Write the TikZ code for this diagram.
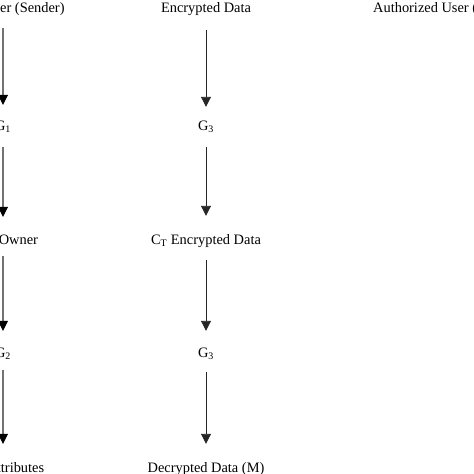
\documentclass[tikz,border=0pt]{standalone}
\usepackage{fontspec}
\setmainfont{Liberation Serif}
\usetikzlibrary{arrows.meta}
\begin{document}
\begin{tikzpicture}[x=1pt,y=-1pt,
  lbl/.style={inner sep=0pt, text height=10pt, text depth=3.5pt, anchor=base,
    font=\fontsize{14.4}{17}\selectfont},
  flow/.style={draw=black!85, line width=0.9pt, -{Triangle[width=10pt,length=10pt]}},
  flowl/.style={draw=black!55, line width=2.4pt, -{Triangle[width=10pt,length=10pt,color=black,fill=black,line width=0.4pt]}}]
\useasboundingbox (0,0) rectangle (474,474);
\clip (0,0) rectangle (474,474);
% left column
\node[lbl] (l1) at (3,12.5) {Data Owner (Sender)};
\node[lbl] (l2) at (3,130) {G\textsubscript{1}};
\node[lbl] (l3) at (3,244) {Data Owner};
\node[lbl] (l4) at (3,357) {G\textsubscript{2}};
\node[lbl] (l5) at (0,472) {User Attributes};
% middle column
\node[lbl] (m1) at (206,12.5) {Encrypted Data};
\node[lbl] (m2) at (206,130) {G\textsubscript{3}};
\node[lbl] (m3) at (206,244) {C\textsubscript{T} Encrypted Data};
\node[lbl] (m4) at (206,357) {G\textsubscript{3}};
\node[lbl] (m5) at (206,472) {Decrypted Data (M)};
% right column
\node[lbl, anchor=base west] (r1) at (373,12.5) {Authorized User (Receiver)};
% arrows
\draw[flow, shorten <=14pt, shorten >=13pt] (m1) -- (m2);
\draw[flow, shorten <=13.5pt, shorten >=18pt] (m2) -- (m3);
\draw[flow, shorten <=12.5pt, shorten >=16pt] (m3) -- (m4);
\draw[flow, shorten <=11.5pt, shorten >=18pt] (m4) -- (m5);
\draw[flowl, shorten <=12pt, shorten >=15pt] (l1) -- (l2);
\draw[flowl, shorten <=13.5pt, shorten >=17pt] (l2) -- (l3);
\draw[flowl, shorten <=8pt, shorten >=16pt] (l3) -- (l4);
\draw[flowl, shorten <=9pt, shorten >=18pt] (l4) -- (l5.north -| l4.south);
\end{tikzpicture}
\end{document}
